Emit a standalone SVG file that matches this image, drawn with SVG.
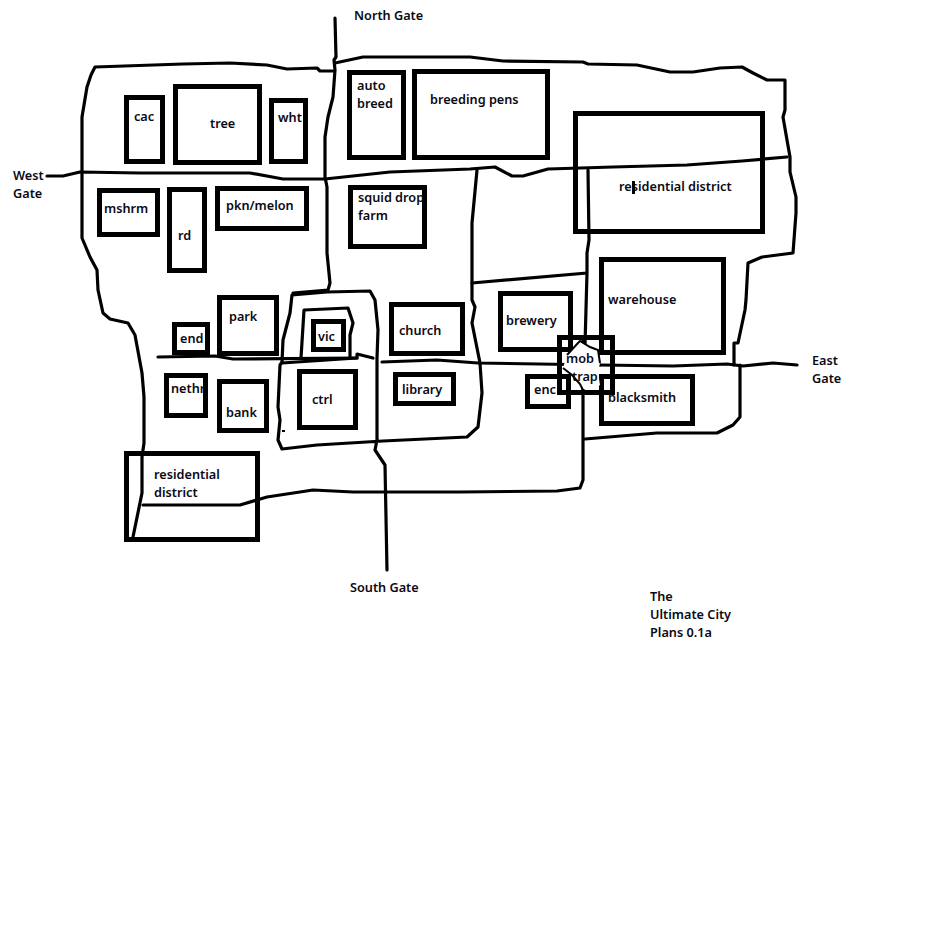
<svg xmlns="http://www.w3.org/2000/svg" width="937" height="940" viewBox="0 0 937 940">
<style>
.b{fill:none;stroke:#000;stroke-width:5}
.r{fill:none;stroke:#000;stroke-width:3.2;stroke-linejoin:round;stroke-linecap:round}
text{font-family:"Noto Sans","DejaVu Sans",sans-serif;font-size:12.7px;font-weight:600;fill:#0a0a14}
</style>
<rect width="937" height="940" fill="#fff"/>
<g id="connectors">
<path class="r" d="M335 18L336 57L334 60L335 70L333 97L328 117L325 137L325 177L327 187L327 253L330 283L328 290L293 293"/>
<path class="r" d="M47 176L63 176L80 172L140 173L250 173L283 179L325 179L390 172L470 169L495 167L512 176L523 176L548 169L613 167L687 165L742 161L787 157"/>
<path class="r" d="M333 71L320 71L317 68L287 69L267 65L230 63L183 64L95 67L91 75L87 87L82 117L82 238L90 257L97 270L98 290L103 313L110 319L128 323L135 335L142 373L144 397L144 443L142 457L142 493L133 537"/>
<path class="r" d="M335 63L363 57L470 57L503 61L583 62L588 64L637 65L670 72L693 72L720 68L742 67L753 73L767 80L785 80L785 110L783 117L787 140L790 157L790 172L796 197L796 213L793 253L762 257L748 263L746 300L745 310L738 343L734 343L734 365"/>
<path class="r" d="M740 365L740 417L733 425L717 433L657 433L585 439"/>
<path class="r" d="M600 365L673 366L727 364L743 366L773 363L797 365"/>
<path class="r" d="M477 170L472 223L472 300L475 307L472 323L480 363L482 393L478 427L467 437L383 441L317 445L282 449L278 440L280 420L278 407L280 365L282 362L283 340L290 313L292 295L327 292L370 291L375 300L378 330L377 358L377 440L375 450L385 465L387 570"/>
<path class="r" d="M282 363L357 358L357 354L373 358"/>
<path class="r" d="M301 358L304 310L348 308L353 323L350 335L350 358"/>
<path class="r" d="M158 357L215 356L233 359L357 358"/>
<path class="r" d="M382 362L437 360L478 363L600 365"/>
<path class="r" d="M143 505L240 505L267 497L313 490L353 492L460 492L557 491L580 488L583 480L583 340"/>
<path class="r" d="M588 170L589 240L587 253L587 273L472 283M587 273L585 345"/>
<rect x="282" y="430" width="3" height="2" fill="#000"/>
</g>
<g id="cac"><rect class="b" x="126.500" y="97.500" width="36" height="64"/><text x="134" y="121">cac</text></g>
<g id="tree"><rect class="b" x="175.500" y="86.500" width="84" height="76"/><text x="210" y="128">tree</text></g>
<g id="wht"><rect class="b" x="271.500" y="100.500" width="34" height="61"/><text x="278" y="122">wht</text></g>
<g id="mshrm"><rect class="b" x="99.500" y="190.500" width="58" height="44"/><text x="104" y="213">mshrm</text></g>
<g id="rd"><rect class="b" x="169.500" y="189.500" width="35" height="81"/><text x="178" y="240">rd</text></g>
<g id="pkn"><rect class="b" x="217.500" y="188.500" width="89" height="40"/><text x="226" y="210">pkn/melon</text></g>
<g id="auto"><rect class="b" x="349.500" y="72.500" width="54" height="85"/><text x="357" y="90">auto</text><text x="357" y="108">breed</text></g>
<g id="breeding"><rect class="b" x="414.500" y="71.500" width="133" height="86"/><text x="430" y="104">breeding pens</text></g>
<g id="squid"><rect class="b" x="350.500" y="187.500" width="74" height="59"/><text x="358" y="202">squid drop</text><text x="358" y="220">farm</text></g>
<g id="res-ne"><rect class="b" x="575.500" y="113.500" width="187" height="118"/><text x="619" y="191">residential district</text><rect x="632" y="181" width="3" height="13"/></g>
<g id="warehouse"><rect class="b" x="601.500" y="259.500" width="122" height="93"/><text x="608" y="304">warehouse</text></g>
<g id="end"><rect class="b" x="174.500" y="324.500" width="33" height="28"/><text x="180" y="343">end</text></g>
<g id="park"><rect class="b" x="219.500" y="297.500" width="57" height="56"/><text x="229" y="321">park</text></g>
<g id="vic"><rect class="b" x="313.500" y="321.500" width="30" height="28"/><text x="318" y="341">vic</text></g>
<g id="church"><rect class="b" x="391.500" y="304.500" width="71" height="49"/><text x="399" y="335">church</text></g>
<g id="nethr"><rect class="b" x="166.500" y="375.500" width="39" height="40"/><text x="171" y="393">nethr</text></g>
<g id="bank"><rect class="b" x="219.500" y="381.500" width="47" height="49"/><text x="226" y="417">bank</text></g>
<g id="ctrl"><rect class="b" x="299.500" y="371.500" width="56" height="56"/><text x="312" y="404">ctrl</text></g>
<g id="library"><rect class="b" x="395.500" y="374.500" width="58" height="29"/><text x="402" y="394">library</text></g>
<g id="res-sw"><rect class="b" x="126.500" y="453.500" width="131" height="86"/><text x="154" y="479">residential</text><text x="154" y="497">district</text></g>
<g id="brewery"><rect class="b" x="500.500" y="293.500" width="70" height="56"/><text x="506" y="325">brewery</text></g>
<g id="enc"><rect class="b" x="527.500" y="376.500" width="41" height="30"/><text x="534" y="394">enc</text></g>
<g id="blacksmith"><rect class="b" x="601.500" y="376.500" width="91" height="47"/><text x="608" y="402">blacksmith</text></g>
<g id="mob">
<path d="M580 342L590 347L598 350L600 363L598 372L600 385L595 389L583 389L580 384L572 375L563 368L567 355L578 343Z" fill="#fff"/>
<path d="M563 368L572 375L580 384L583 390M567 355L578 343L580 341L590 347L598 350L600 363" fill="none" stroke="#000" stroke-width="2"/>
<rect class="b" x="559.500" y="337.500" width="53" height="55"/>
<text x="566" y="363">mob</text><text x="572" y="381">trap</text></g>
<g id="labels">
<text x="354" y="20">North Gate</text>
<text x="13" y="180">West</text><text x="13" y="198">Gate</text>
<text x="812" y="365">East</text><text x="812" y="383">Gate</text>
<text x="350" y="592">South Gate</text>
<text x="650" y="601">The</text><text x="650" y="619">Ultimate City</text><text x="650" y="637">Plans 0.1a</text>
</g>
</svg>
